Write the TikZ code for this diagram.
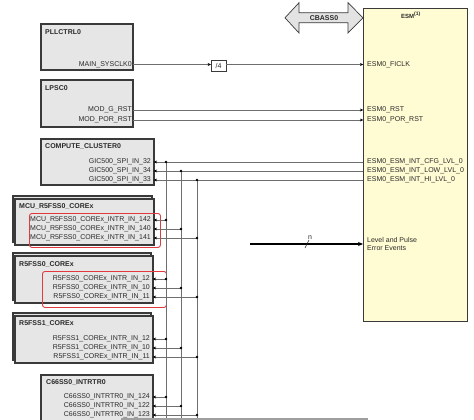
\documentclass[tikz,border=0pt]{standalone}
\usepackage{fontspec}
\setmainfont{Liberation Sans}
\usetikzlibrary{arrows.meta}
\definecolor{boxfill}{HTML}{E6E6E6}
\definecolor{boxline}{HTML}{3A3A3A}
\definecolor{txt}{HTML}{2A2A2A}
\definecolor{wirec}{HTML}{6E6E6E}
\definecolor{redc}{HTML}{E0393E}
\definecolor{esmfill}{HTML}{FFFBD3}
\definecolor{arrfill}{HTML}{E3E3E3}
\begin{document}
\begin{tikzpicture}[x=1pt,y=-1pt,
  font=\fontsize{7}{8}\selectfont,
  blk/.style={draw=boxline, line width=1.2pt, fill=boxfill, anchor=north west, inner sep=0pt, outer sep=0pt},
  ttl/.style={font=\fontsize{7}{8}\selectfont\bfseries, text=txt, anchor=west, inner sep=0pt},
  pin/.style={text=txt, anchor=east, inner sep=0pt},
  epin/.style={text=txt, anchor=west, inner sep=0pt},
  wire/.style={draw=wirec, line width=0.6pt},
  tip/.style={-{Stealth[length=3.4pt,width=3pt,color=black]}, shorten >=-0.3pt},
  redbox/.style={draw=redc, line width=0.9pt, rounded corners=2.5pt, anchor=north west, inner sep=0pt},
]
\useasboundingbox (0,0) rectangle (474,420);
\clip (0,0) rectangle (474,420);

% ---- CBASS0 double arrow
\draw[fill=arrfill, draw=boxline, line width=0.7pt]
  (285,17.8) -- (299,2.7) -- (299,12.7) -- (348,12.7) -- (348,2.7) -- (363,17.8)
  -- (348,33) -- (348,22.8) -- (299,22.8) -- (299,33) -- cycle;
\node[font=\fontsize{7}{8}\selectfont\bfseries, text=txt, inner sep=0pt] (cbass) at (324,17.8) {CBASS0};

% ---- ESM
\node[draw=boxline, line width=1.3pt, fill=esmfill, anchor=north west, minimum width=104pt, minimum height=313pt, inner sep=0pt] (esm) at (363,8) {};
\node[font=\fontsize{6}{7}\selectfont\bfseries, text=txt, inner sep=0pt] (esml) at (411,15) {ESM\textsuperscript{(1)}};
\node[epin] (eficlk) at (367,64.5) {ESM0\_FICLK};
\node[epin] (erst) at (367,110) {ESM0\_RST};
\node[epin] (eporrst) at (367,120) {ESM0\_POR\_RST};
\node[epin] (ecfg) at (367,162) {ESM0\_ESM\_INT\_CFG\_LVL\_0};
\node[epin] (elow) at (367,171) {ESM0\_ESM\_INT\_LOW\_LVL\_0};
\node[epin] (ehi) at (367,180) {ESM0\_ESM\_INT\_HI\_LVL\_0};
\node[epin, align=left, font=\fontsize{7}{8}\selectfont] (elvl) at (367,244) {Level and Pulse\\Error Events};

% ---- PLLCTRL0
\node[blk, minimum width=92pt, minimum height=46pt] (pll) at (41,24) {};
\node[ttl] (pllt) at (45,32) {PLLCTRL0};
\node[pin] (sysclk) at (132,64.5) {MAIN\_SYSCLK0};

% ---- LPSC0
\node[blk, minimum width=92pt, minimum height=47pt] (lpsc) at (41,80) {};
\node[ttl] (lpsct) at (45,88) {LPSC0};
\node[pin] (modg) at (132,110) {MOD\_G\_RST};
\node[pin] (modpor) at (132,120) {MOD\_POR\_RST};

% ---- COMPUTE_CLUSTER0
\node[blk, minimum width=113pt, minimum height=46pt] (cc) at (41,139) {};
\node[ttl] (cct) at (45,146) {COMPUTE\_CLUSTER0};
\node[pin] (g32) at (151,162) {GIC500\_SPI\_IN\_32};
\node[pin] (g34) at (151,171) {GIC500\_SPI\_IN\_34};
\node[pin] (g33) at (151,180) {GIC500\_SPI\_IN\_33};

% ---- MCU_R5FSS0_COREx (stack)
\node[blk, minimum width=139pt, minimum height=46pt] (mcub) at (13,196) {};
\node[blk, minimum width=139pt, minimum height=46pt] (mcu) at (15,199) {};
\node[ttl] (mcut) at (19,206) {MCU\_R5FSS0\_COREx};
\node[pin] (m142) at (151,220) {MCU\_R5FSS0\_COREx\_INTR\_IN\_142};
\node[pin] (m140) at (151,229) {MCU\_R5FSS0\_COREx\_INTR\_IN\_140};
\node[pin] (m141) at (151,238) {MCU\_R5FSS0\_COREx\_INTR\_IN\_141};

% ---- R5FSS0_COREx (stack)
\node[blk, minimum width=138pt, minimum height=47pt] (r0b) at (13,253) {};
\node[blk, minimum width=138pt, minimum height=47pt] (r0) at (15,256) {};
\node[ttl] (r0t) at (19,264) {R5FSS0\_COREx};
\node[pin] (r012) at (150,279) {R5FSS0\_COREx\_INTR\_IN\_12};
\node[pin] (r010) at (150,288) {R5FSS0\_COREx\_INTR\_IN\_10};
\node[pin] (r011) at (150,297) {R5FSS0\_COREx\_INTR\_IN\_11};

% ---- R5FSS1_COREx (stack)
\node[blk, minimum width=138pt, minimum height=47pt] (r1b) at (13,313) {};
\node[blk, minimum width=138pt, minimum height=47pt] (r1) at (15,316) {};
\node[ttl] (r1t) at (19,323) {R5FSS1\_COREx};
\node[pin] (r112) at (150,339) {R5FSS1\_COREx\_INTR\_IN\_12};
\node[pin] (r110) at (150,348) {R5FSS1\_COREx\_INTR\_IN\_10};
\node[pin] (r111) at (150,357) {R5FSS1\_COREx\_INTR\_IN\_11};

% ---- C66SS0_INTRTR0
\node[blk, minimum width=112pt, minimum height=60pt] (c66) at (41,375) {};
\node[ttl] (c66t) at (46,382) {C66SS0\_INTRTR0};
\node[pin] (c124) at (150,397) {C66SS0\_INTRTR0\_IN\_124};
\node[pin] (c122) at (150,406) {C66SS0\_INTRTR0\_IN\_122};
\node[pin] (c123) at (150,415) {C66SS0\_INTRTR0\_IN\_123};

% ---- red highlight boxes
\node[redbox, minimum width=131pt, minimum height=34pt] (hl1) at (29,213) {};
\node[redbox, minimum width=124pt, minimum height=36pt] (hl2) at (42,271) {};

% ---- /4 divider
\node[draw=boxline, fill=white, line width=0.6pt, minimum width=15pt, minimum height=11pt, inner sep=0pt, text=txt] (div) at (218.5,65.5) {/4};

% ---- clock and reset wires
\draw[wire,tip] (pll.east |- sysclk) -- (div.west |- sysclk);
\draw[wire,tip] (div.east |- sysclk) -- (esm.west |- eficlk);
\draw[wire,tip] (lpsc.east |- modg) -- (esm.west |- erst);
\draw[wire,tip] (lpsc.east |- modpor) -- (esm.west |- eporrst);

% ---- interrupt outputs to compute cluster
\draw[wire,tip] (esm.west |- ecfg) -- (cc.east |- g32);
\draw[wire,tip] (esm.west |- elow) -- (cc.east |- g34);
\draw[wire,tip] (esm.west |- ehi) -- (cc.east |- g33);

% ---- vertical buses
\coordinate (b1) at (166,162);
\coordinate (b2) at (181,171);
\coordinate (b3) at (197,180);
\coordinate (b1e) at (166,425);
\coordinate (b2e) at (181,425);
\coordinate (b3e) at (197,425);
\draw[wire] (b1) -- (b1e);
\draw[wire] (b2) -- (b2e);
\draw[wire] (b3) -- (b3e);
\fill (b1) circle (1.3pt);
\fill (b2) circle (1.3pt);
\fill (b3) circle (1.3pt);

% ---- branches to each subsystem
\foreach \bx/\ra/\rb/\rc in {mcu/m142/m140/m141, r0/r012/r010/r011, r1/r112/r110/r111, c66/c124/c122/c123}{
  \draw[wire,tip] (b1 |- \ra) -- (\bx.east |- \ra);
  \draw[wire,tip] (b2 |- \rb) -- (\bx.east |- \rb);
  \draw[wire,tip] (b3 |- \rc) -- (\bx.east |- \rc);
  \fill (b1 |- \ra) circle (1.3pt);
  \fill (b2 |- \rb) circle (1.3pt);
  \fill (b3 |- \rc) circle (1.3pt);
}

% ---- level and pulse error events
\coordinate (lvs) at (250,244);
\draw[line width=1.4pt, -{Stealth[length=5pt,width=4.2pt]}] (lvs) -- (esm.west |- elvl);
\draw[line width=0.5pt, draw=txt] (305,248) -- (309,240);
\node[text=txt, inner sep=0pt] (nlab) at (310,238) {n};

% ---- bottom bar (top edge of next block)
\coordinate (bar1) at (121,419.5);
\coordinate (bar2) at (368,419.5);
\draw[line width=3pt, draw=gray!75] (bar1) -- (bar2);
\end{tikzpicture}
\end{document}
